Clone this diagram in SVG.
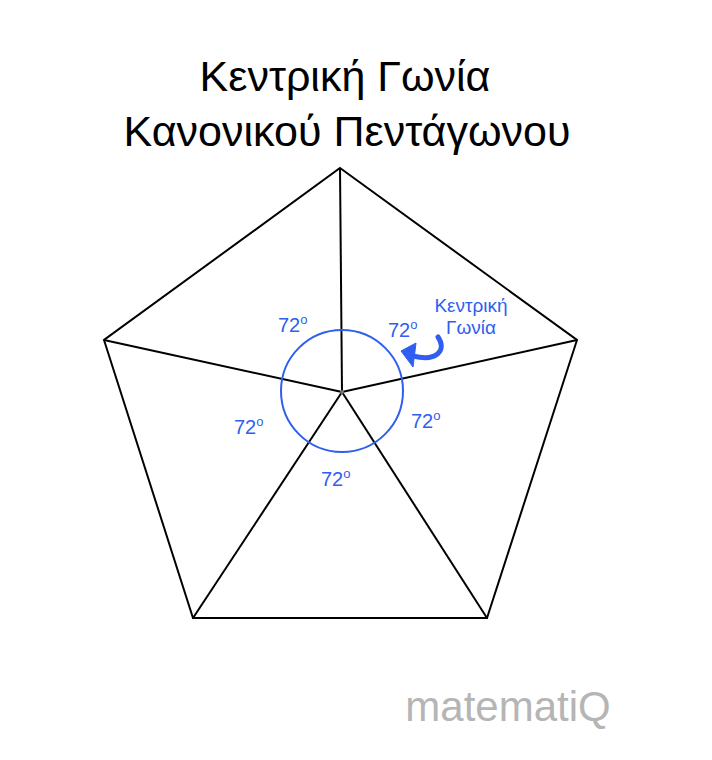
<svg xmlns="http://www.w3.org/2000/svg" width="712" height="760" viewBox="0 0 712 760">
<style>
.edge{stroke:#000;stroke-width:2;fill:none;stroke-linejoin:miter}
.blue{fill:#2f5ff0;font-family:"Liberation Sans",Arial,sans-serif}
.deg{font-size:20px}
.sup{font-size:13px}
.title{font-family:"Liberation Sans",Arial,sans-serif;font-size:43px;fill:#000;text-anchor:middle}
</style>
<rect width="712" height="760" fill="#fff"/>
<g id="title">
<text class="title" x="345" y="91">Κεντρική Γωνία</text>
<text class="title" x="347" y="146">Κανονικού Πεντάγωνου</text>
</g>
<g id="pentagon">
<polygon class="edge" points="340,168 577,340 487,618 193,618 104,340"/>
</g>
<g id="connectors">
<line class="edge" x1="342" y1="392" x2="340" y2="168"/>
<line class="edge" x1="342" y1="392" x2="577" y2="340"/>
<line class="edge" x1="342" y1="392" x2="104" y2="340"/>
<line class="edge" x1="342" y1="392" x2="193" y2="618"/>
<line class="edge" x1="342" y1="392" x2="487" y2="618"/>
<circle cx="342" cy="392" r="2" fill="#777"/>
</g>
<g id="circle">
<circle cx="342" cy="391" r="61" fill="none" stroke="#2f5ff0" stroke-width="2"/>
</g>
<g id="labels">
<text class="blue deg" x="278" y="332">72<tspan class="sup" dy="-8">o</tspan></text>
<text class="blue deg" x="388" y="337">72<tspan class="sup" dy="-8">o</tspan></text>
<text class="blue deg" x="411" y="428">72<tspan class="sup" dy="-8">o</tspan></text>
<text class="blue deg" x="321" y="486">72<tspan class="sup" dy="-8">o</tspan></text>
<text class="blue deg" x="234" y="434">72<tspan class="sup" dy="-8">o</tspan></text>
</g>
<g id="central-angle">
<text class="blue" font-size="19" x="471" y="312" text-anchor="middle">Κεντρική</text>
<text class="blue" font-size="19" x="471" y="334" text-anchor="middle">Γωνία</text>
<path d="M438,337 C447,350 437,362 413,356" fill="none" stroke="#2f5ff0" stroke-width="5" stroke-linecap="round"/>
<polygon points="401,351 416,343 413,367" fill="#2f5ff0" stroke="#2f5ff0" stroke-width="1" stroke-linejoin="round"/>
</g>
<g id="logo">
<text x="508" y="721" font-family="Liberation Sans,Arial,sans-serif" font-size="42" fill="#b5b5b5" text-anchor="middle">matematiQ</text>
</g>
</svg>
